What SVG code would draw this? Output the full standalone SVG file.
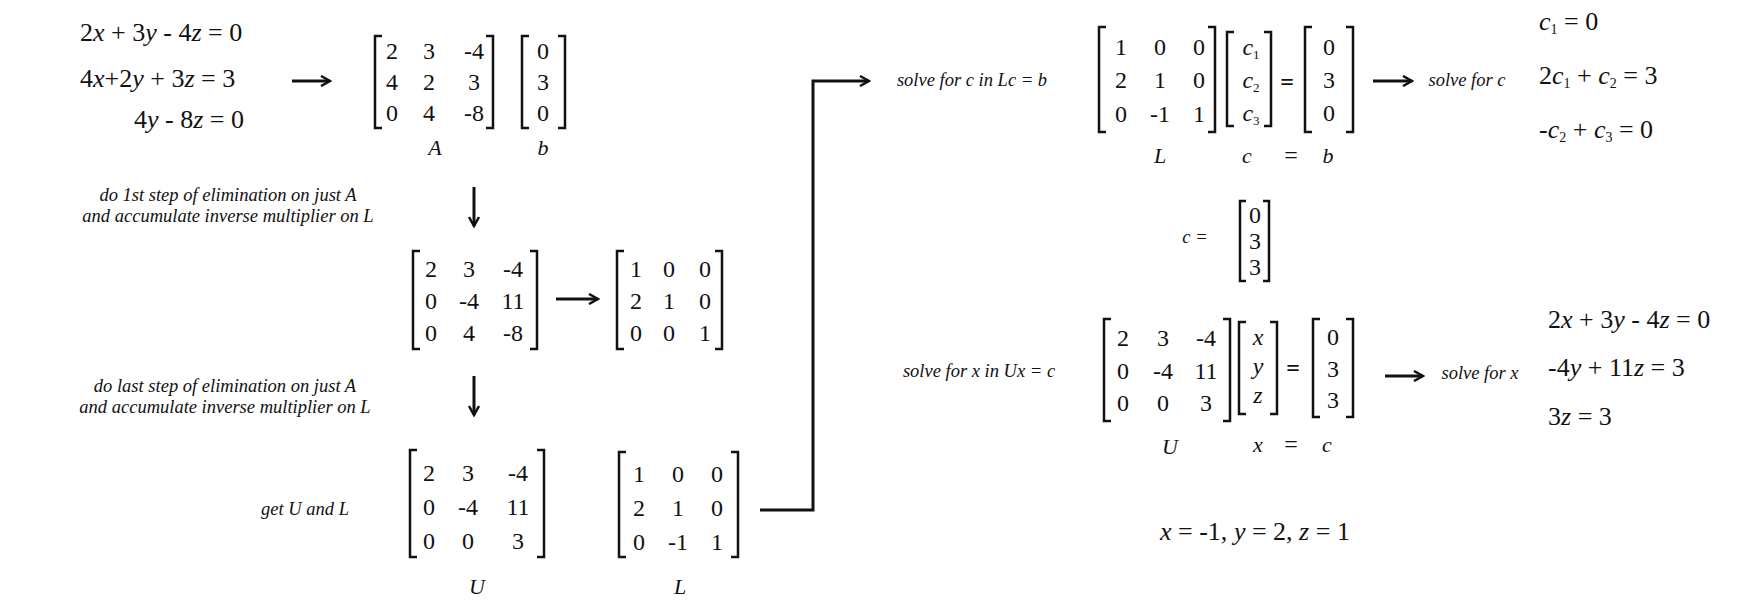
<svg xmlns="http://www.w3.org/2000/svg" width="1740" height="610" viewBox="0 0 1740 610" font-family="'Liberation Serif', 'Times New Roman', serif">
<defs>
<style>
text,tspan{font-family:"Liberation Serif","Times New Roman",serif;fill:#111}
.m{font-size:24px;text-anchor:middle}
.e{font-size:26px}
.n{font-size:18.5px;font-style:italic;text-anchor:middle}
.lb{font-size:22px;font-style:italic;text-anchor:middle}
.br{fill:none;stroke:#111;stroke-width:2.5}
.ar{fill:none;stroke:#111;stroke-width:3}
</style>
<marker id="ah" markerWidth="12" markerHeight="12" refX="10" refY="6" orient="auto" markerUnits="userSpaceOnUse">
<path d="M1,1 L10,6 L1,11" fill="none" stroke="#111" stroke-width="2.5"/>
</marker>
</defs>
<rect width="1740" height="610" fill="#fff"/>

<g id="system">
<text class="e" x="80" y="41">2<tspan font-style="italic">x</tspan> + 3<tspan font-style="italic">y</tspan> - 4<tspan font-style="italic">z</tspan> =  0</text>
<text class="e" x="80" y="87">4<tspan font-style="italic">x</tspan>+2<tspan font-style="italic">y</tspan> + 3<tspan font-style="italic">z</tspan> = 3</text>
<text class="e" x="134" y="128">4<tspan font-style="italic">y</tspan> - 8<tspan font-style="italic">z</tspan> =  0</text>
</g>

<g id="matA">
<path class="br" d="M382,36 H375 V128 H382 M486,36 H493 V128 H486"/>
<text class="m" x="392" y="59">2</text><text class="m" x="429" y="59">3</text><text class="m" x="474" y="59">-4</text>
<text class="m" x="392" y="90">4</text><text class="m" x="429" y="90">2</text><text class="m" x="474" y="90">3</text>
<text class="m" x="392" y="121">0</text><text class="m" x="429" y="121">4</text><text class="m" x="474" y="121">-8</text>
<text class="lb" x="435" y="155">A</text>
</g>
<g id="vecb">
<path class="br" d="M529,36 H522 V128 H529 M558,36 H565 V128 H558"/>
<text class="m" x="543" y="59">0</text><text class="m" x="543" y="90">3</text><text class="m" x="543" y="121">0</text>
<text class="lb" x="543" y="155">b</text>
</g>

<g id="step1">
<text class="n" x="228" y="201">do 1st step of elimination on just A</text>
<text class="n" x="228" y="222">and accumulate inverse multiplier on L</text>
</g>
<g id="mat2">
<path class="br" d="M420,251 H413 V349 H420 M530,251 H537 V349 H530"/>
<text class="m" x="431" y="277">2</text><text class="m" x="469" y="277">3</text><text class="m" x="513" y="277">-4</text>
<text class="m" x="431" y="309">0</text><text class="m" x="469" y="309">-4</text><text class="m" x="513" y="309">11</text>
<text class="m" x="431" y="341">0</text><text class="m" x="469" y="341">4</text><text class="m" x="513" y="341">-8</text>
</g>
<g id="matL1">
<path class="br" d="M624,251 H617 V349 H624 M715,251 H722 V349 H715"/>
<text class="m" x="636" y="277">1</text><text class="m" x="669" y="277">0</text><text class="m" x="705" y="277">0</text>
<text class="m" x="636" y="309">2</text><text class="m" x="669" y="309">1</text><text class="m" x="705" y="309">0</text>
<text class="m" x="636" y="341">0</text><text class="m" x="669" y="341">0</text><text class="m" x="705" y="341">1</text>
</g>

<g id="step2">
<text class="n" x="225" y="392">do last step of elimination on just A</text>
<text class="n" x="225" y="413">and accumulate inverse multiplier on L</text>
</g>
<g id="getUL"><text class="n" x="305" y="515">get U and L</text></g>
<g id="matU">
<path class="br" d="M417,450 H410 V557 H417 M537,450 H544 V557 H537"/>
<text class="m" x="429" y="481">2</text><text class="m" x="468" y="481">3</text><text class="m" x="518" y="481">-4</text>
<text class="m" x="429" y="515">0</text><text class="m" x="468" y="515">-4</text><text class="m" x="518" y="515">11</text>
<text class="m" x="429" y="549">0</text><text class="m" x="468" y="549">0</text><text class="m" x="518" y="549">3</text>
<text class="lb" x="477" y="594">U</text>
</g>
<g id="matL">
<path class="br" d="M626,452 H619 V557 H626 M731,452 H738 V557 H731"/>
<text class="m" x="639" y="482">1</text><text class="m" x="678" y="482">0</text><text class="m" x="717" y="482">0</text>
<text class="m" x="639" y="516">2</text><text class="m" x="678" y="516">1</text><text class="m" x="717" y="516">0</text>
<text class="m" x="639" y="550">0</text><text class="m" x="678" y="550">-1</text><text class="m" x="717" y="550">1</text>
<text class="lb" x="680" y="594">L</text>
</g>

<g id="connectors">
<line class="ar" x1="292" y1="81" x2="330" y2="81" marker-end="url(#ah)"/>
<line class="ar" x1="474" y1="187" x2="474" y2="226" marker-end="url(#ah)"/>
<line class="ar" x1="556" y1="299" x2="598" y2="299" marker-end="url(#ah)"/>
<line class="ar" x1="474" y1="376" x2="474" y2="415" marker-end="url(#ah)"/>
<path class="ar" d="M760,510 H813 V81 H869" marker-end="url(#ah)"/>
<line class="ar" x1="1373" y1="81" x2="1412" y2="81" marker-end="url(#ah)"/>
<line class="ar" x1="1385" y1="376" x2="1423" y2="376" marker-end="url(#ah)"/>
</g>

<g id="solveC">
<text class="n" x="972" y="86">solve for c in Lc = b</text>
<path class="br" d="M1106,27 H1099 V132 H1106 M1208,27 H1215 V132 H1208"/>
<text class="m" x="1121" y="55">1</text><text class="m" x="1160" y="55">0</text><text class="m" x="1199" y="55">0</text>
<text class="m" x="1121" y="88">2</text><text class="m" x="1160" y="88">1</text><text class="m" x="1199" y="88">0</text>
<text class="m" x="1121" y="122">0</text><text class="m" x="1160" y="122">-1</text><text class="m" x="1199" y="122">1</text>
<path class="br" d="M1234,32 H1227 V126 H1234 M1264,32 H1271 V126 H1264"/>
<text class="m" x="1251" y="55" font-style="italic">c<tspan font-size="13" dy="4" font-style="normal">1</tspan></text>
<text class="m" x="1251" y="88" font-style="italic">c<tspan font-size="13" dy="4" font-style="normal">2</tspan></text>
<text class="m" x="1251" y="121" font-style="italic">c<tspan font-size="13" dy="4" font-style="normal">3</tspan></text>
<text class="m" x="1287" y="90" font-weight="bold">=</text>
<path class="br" d="M1312,27 H1305 V132 H1312 M1346,27 H1353 V132 H1346"/>
<text class="m" x="1329" y="55">0</text><text class="m" x="1329" y="88">3</text><text class="m" x="1329" y="121">0</text>
<text class="lb" x="1160" y="163">L</text>
<text class="lb" x="1247" y="163">c</text>
<text class="m" x="1291" y="163">=</text>
<text class="lb" x="1328" y="163">b</text>
<text class="n" x="1467" y="86">solve for c</text>
<text class="e" x="1539" y="30" font-size="28"><tspan font-style="italic">c</tspan><tspan font-size="14" dy="4">1</tspan><tspan dy="-4"> = 0</tspan></text>
<text class="e" x="1539" y="84" font-size="28">2<tspan font-style="italic">c</tspan><tspan font-size="14" dy="4">1</tspan><tspan dy="-4"> + </tspan><tspan font-style="italic">c</tspan><tspan font-size="14" dy="4">2</tspan><tspan dy="-4"> = 3</tspan></text>
<text class="e" x="1539" y="138" font-size="28">-<tspan font-style="italic">c</tspan><tspan font-size="14" dy="4">2</tspan><tspan dy="-4"> + </tspan><tspan font-style="italic">c</tspan><tspan font-size="14" dy="4">3</tspan><tspan dy="-4"> = 0</tspan></text>
</g>

<g id="cResult">
<text class="n" x="1195" y="243">c =</text>
<path class="br" d="M1246,201 H1240 V281 H1246 M1263,201 H1269 V281 H1263"/>
<text class="m" x="1255" y="223" font-size="19">0</text><text class="m" x="1255" y="249" font-size="19">3</text><text class="m" x="1255" y="275" font-size="19">3</text>
</g>

<g id="solveX">
<text class="n" x="979" y="377">solve for x in Ux = c</text>
<path class="br" d="M1111,319 H1104 V421 H1111 M1223,319 H1230 V421 H1223"/>
<text class="m" x="1123" y="346">2</text><text class="m" x="1163" y="346">3</text><text class="m" x="1206" y="346">-4</text>
<text class="m" x="1123" y="379">0</text><text class="m" x="1163" y="379">-4</text><text class="m" x="1206" y="379">11</text>
<text class="m" x="1123" y="411">0</text><text class="m" x="1163" y="411">0</text><text class="m" x="1206" y="411">3</text>
<path class="br" d="M1246,322 H1239 V414 H1246 M1270,322 H1277 V414 H1270"/>
<text class="m" x="1258" y="345" font-style="italic">x</text>
<text class="m" x="1258" y="374" font-style="italic">y</text>
<text class="m" x="1258" y="403" font-style="italic">z</text>
<text class="m" x="1293" y="376" font-weight="bold">=</text>
<path class="br" d="M1320,319 H1313 V417 H1320 M1346,319 H1353 V417 H1346"/>
<text class="m" x="1333" y="345">0</text><text class="m" x="1333" y="377">3</text><text class="m" x="1333" y="408">3</text>
<text class="lb" x="1170" y="454">U</text>
<text class="lb" x="1258" y="452">x</text>
<text class="m" x="1291" y="452">=</text>
<text class="lb" x="1327" y="452">c</text>
<text class="n" x="1480" y="379">solve for x</text>
<text class="e" x="1548" y="328" font-size="27">2<tspan font-style="italic">x</tspan> + 3<tspan font-style="italic">y</tspan> - 4<tspan font-style="italic">z</tspan> = 0</text>
<text class="e" x="1548" y="376" font-size="27">-4<tspan font-style="italic">y</tspan> + 11<tspan font-style="italic">z</tspan> = 3</text>
<text class="e" x="1548" y="425" font-size="27">3<tspan font-style="italic">z</tspan> = 3</text>
</g>

<g id="answer">
<text class="e" x="1160" y="540" font-size="30"><tspan font-style="italic">x</tspan> = -1, <tspan font-style="italic">y</tspan> = 2, <tspan font-style="italic">z</tspan> = 1</text>
</g>
</svg>
